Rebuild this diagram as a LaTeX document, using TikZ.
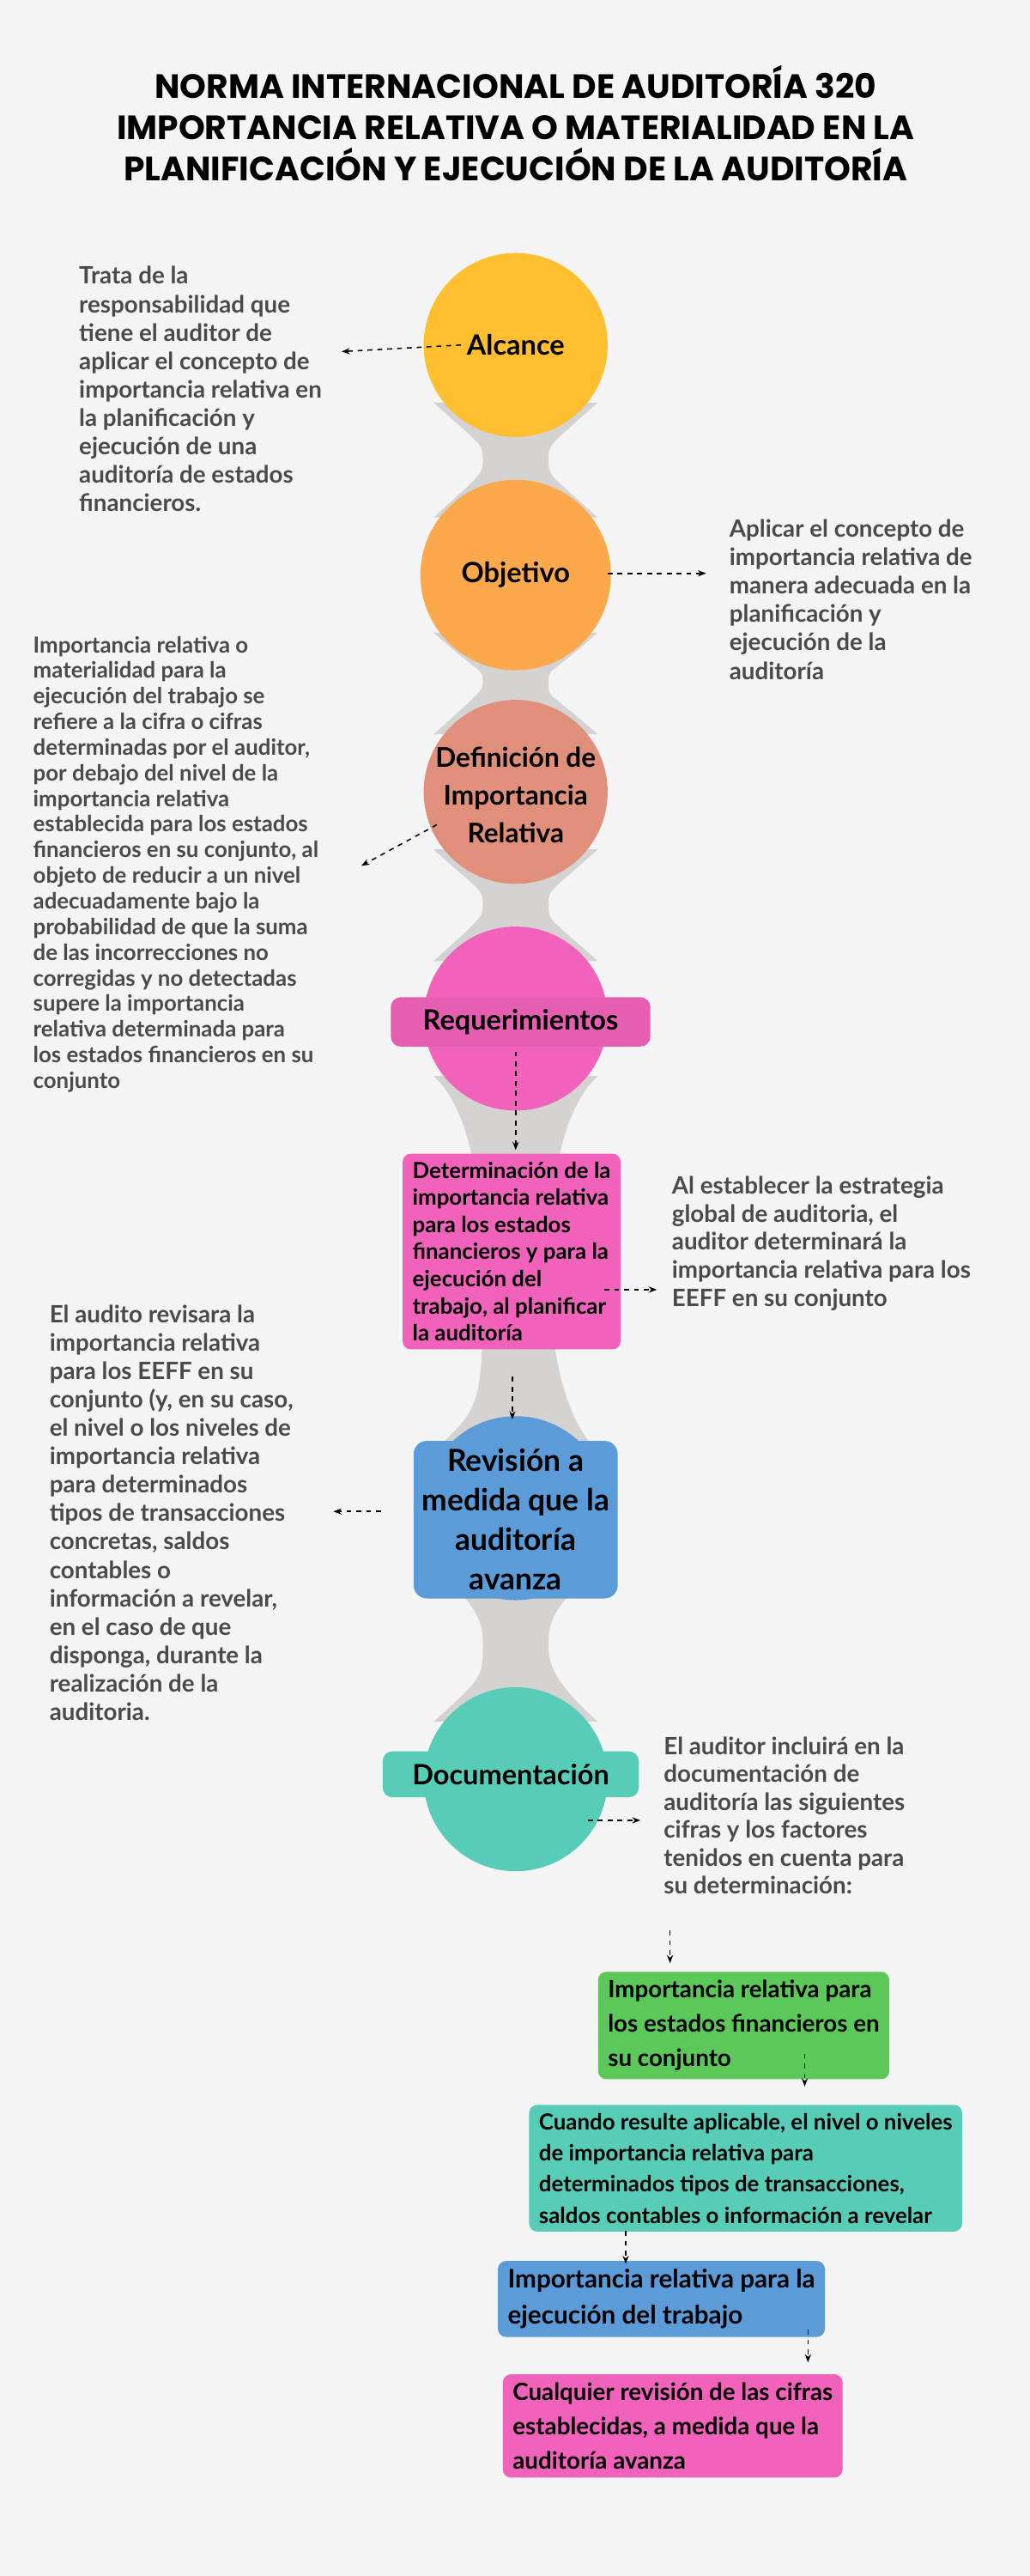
\documentclass[tikz,border=0pt]{standalone}
\usepackage{fontspec}
\setmainfont{Lato}
\newfontfamily\titlef{Poppins}
\usetikzlibrary{arrows.meta}
\definecolor{bg}{HTML}{F4F4F4}
\definecolor{spine}{HTML}{D5D2D2}
\definecolor{txt}{HTML}{4A4A4A}
\definecolor{cA}{HTML}{FFBF2F}
\definecolor{cO}{HTML}{FBA94C}
\definecolor{cD}{HTML}{E0907A}
\definecolor{cR}{HTML}{F163BA}
\definecolor{cB}{HTML}{5B9BD8}
\definecolor{cT}{HTML}{57CDB8}
\definecolor{cG}{HTML}{5CC85A}
\tikzset{
 circ/.style={circle,minimum size=112pt,inner sep=0pt,fill=#1},
 lab/.style={font=\bfseries\fontsize{17}{23}\selectfont,align=center,text=black},
 body/.style={anchor=north west,align=left,inner sep=0pt,text=txt,font=\bfseries\fontsize{14.5}{17.3}\selectfont},
 boxt/.style={anchor=north west,align=left,text=black,rounded corners=5pt,inner xsep=6pt,inner ysep=5pt,font=\bfseries\fontsize{14.5}{21}\selectfont},
 arr/.style={dashed,thick,-{Stealth[length=5pt]},black},
}
\begin{document}
\begin{tikzpicture}[x=1pt,y=1pt]
\fill[bg] (0,0) rectangle (627,-1568);
\useasboundingbox (0,0) rectangle (627,-1568);
% spine
\foreach \a/\b in {210/350,350/482,482/620,620/918,918/1083}{
 \pgfmathsetmacro\m{(\a+\b)/2}
 \fill[spine] (264,-\a-35) .. controls (294,-\a-62) and (294,-\m+10) .. (294,-\m)
   .. controls (294,-\b+62-\m+\m) and (294,-\b+62) .. (264,-\b+35) -- (364,-\b+35)
   .. controls (334,-\b+62) and (334,-\m-10) .. (334,-\m)
   .. controls (334,-\m+10) and (334,-\a-62) .. (364,-\a-35) -- cycle;
}
\node[font=\titlef\bfseries\fontsize{20.5}{25}\selectfont,align=center] (title) at (314,-75)
 {NORMA INTERNACIONAL DE AUDITORÍA 320\\IMPORTANCIA RELATIVA O MATERIALIDAD EN LA\\PLANIFICACIÓN Y EJECUCIÓN DE LA AUDITORÍA};
% circles
\node[circ=cA] (cA) at (314,-210) {};
\node[lab] (lA) at (314,-210) {Alcance};
\node[circ=cO,minimum size=116pt] (cO) at (314,-350) {};
\node[lab] (lO) at (314,-350) {Objetivo};
\node[circ=cD] (cD) at (314,-482) {};
\node[lab,font=\bfseries\fontsize{16.5}{23}\selectfont] (lD) at (314,-484) {Definición de\\Importancia\\Relativa};
\node[circ=cR] (cR) at (314,-620) {};
\node[lab,fill=cR!95!black,rounded corners=6pt,minimum width=158pt,minimum height=30pt] (lR) at (317,-622) {Requerimientos};
\node[boxt,fill=cR,font=\bfseries\fontsize{13.5}{16.5}\selectfont] (det) at (245,-702)
 {Determinación de la\\importancia relativa\\para los estados\\financieros y para la\\ejecución del\\trabajo, al planificar\\la auditoría};
\node[circ=cB] (cB) at (314,-918) {};
\node[lab,fill=cB,rounded corners=8pt,font=\bfseries\fontsize{18.5}{24}\selectfont,inner sep=5pt] (lB) at (314,-925) {Revisión a\\medida que la\\auditoría\\avanza};
\node[circ=cT] (cT) at (314,-1083) {};
\node[lab,fill=cT,rounded corners=6pt,minimum width=156pt,minimum height=28pt] (lT) at (311,-1080) {Documentación};
% texts
\node[body] (t1) at (48,-162) {Trata de la\\responsabilidad que\\tiene el auditor de\\aplicar el concepto de\\importancia relativa en\\la planificación y\\ejecución de una\\auditoría de estados\\financieros.};
\node[body] (t2) at (444,-316) {Aplicar el concepto de\\importancia relativa de\\manera adecuada en la\\planificación y\\ejecución de la\\auditoría};
\node[body,font=\bfseries\fontsize{13.5}{15.6}\selectfont] (t3) at (20,-387) {Importancia relativa o\\materialidad para la\\ejecución del trabajo se\\refiere a la cifra o cifras\\determinadas por el auditor,\\por debajo del nivel de la\\importancia relativa\\establecida para los estados\\financieros en su conjunto, al\\objeto de reducir a un nivel\\adecuadamente bajo la\\probabilidad de que la suma\\de las incorrecciones no\\corregidas y no detectadas\\supere la importancia\\relativa determinada para\\los estados financieros en su\\conjunto};
\node[body,font=\bfseries\fontsize{14.5}{17}\selectfont] (t4) at (409,-716) {Al establecer la estrategia\\global de auditoria, el\\auditor determinará la\\importancia relativa para los\\EEFF en su conjunto};
\node[body] (t5) at (30,-794) {El audito revisara la\\importancia relativa\\para los EEFF en su\\conjunto (y, en su caso,\\el nivel o los niveles de\\importancia relativa\\para determinados\\tipos de transacciones\\concretas, saldos\\contables o\\información a revelar,\\en el caso de que\\disponga, durante la\\realización de la\\auditoria.};
\node[body,font=\bfseries\fontsize{14.5}{17}\selectfont] (t6) at (404,-1057) {El auditor incluirá en la\\documentación de\\auditoría las siguientes\\cifras y los factores\\tenidos en cuenta para\\su determinación:};
% bottom boxes
\node[boxt,fill=cG] (b1) at (364,-1200) {Importancia relativa para\\los estados financieros en\\su conjunto};
\node[boxt,fill=cT,font=\bfseries\fontsize{13.5}{19}\selectfont] (b2) at (322,-1281) {Cuando resulte aplicable, el nivel o niveles\\de importancia relativa para\\determinados tipos de transacciones,\\saldos contables o información a revelar};
\node[boxt,fill=cB,font=\bfseries\fontsize{15.5}{22}\selectfont] (b3) at (303,-1376) {Importancia relativa para la\\ejecución del trabajo};
\node[boxt,fill=cR] (b4) at (306,-1445) {Cualquier revisión de las cifras\\establecidas, a medida que la\\auditoría avanza};
% arrow endpoints
\coordinate (e1) at (208,-214);
\coordinate (s2) at (370,-349); \coordinate (e2) at (430,-349);
\coordinate (s3) at (266,-502); \coordinate (e3) at (220,-527);
\coordinate (s4) at (314,-640); \coordinate (e4) at (314,-700);
\coordinate (s5) at (368,-785); \coordinate (e5) at (400,-785);
\coordinate (s6) at (312,-838); \coordinate (e6) at (312,-864);
\coordinate (s7) at (232,-920); \coordinate (e7) at (203,-920);
\coordinate (s8) at (358,-1108); \coordinate (e8) at (390,-1108);
\coordinate (s9) at (408,-1175); \coordinate (e9) at (408,-1195);
\coordinate (s10) at (490,-1250); \coordinate (e10) at (490,-1270);
\coordinate (s11) at (381,-1358); \coordinate (e11) at (381,-1378);
\coordinate (s12) at (492,-1418); \coordinate (e12) at (492,-1438);
\draw[arr] (lA.west) -- (e1);
\foreach \i in {2,...,12}{\draw[arr] (s\i) -- (e\i);}
\end{tikzpicture}
\end{document}
